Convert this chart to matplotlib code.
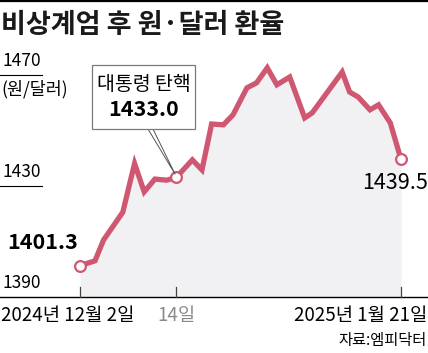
import matplotlib
matplotlib.use('Agg')
import matplotlib.pyplot as plt
from matplotlib.patches import Polygon, Rectangle

plt.rcParams['font.family'] = ['Noto Sans CJK KR', 'DejaVu Sans']

# data: position (trading-day step) and won/dollar rate
pos = [0, 1.4, 2.2, 4.0, 5.1, 6.0, 7.0, 8.1, 9.0, 10.5, 11.4, 12.3, 13.4, 14.3,
       15.6, 16.5, 17.5, 18.4, 19.6, 21.0, 21.7, 24.5, 25.2, 26.0, 27.1, 27.9,
       29.0, 30.0]
rate = [1401.3, 1403.0, 1410.5, 1420.5, 1438.0, 1427.8, 1432.4, 1432.0, 1433.0,
        1439.3, 1435.7, 1452.2, 1451.9, 1455.5, 1465.2, 1467.0, 1472.4, 1466.3,
        1469.1, 1454.4, 1456.2, 1470.9, 1463.7, 1461.9, 1457.3, 1459.1, 1452.6,
        1439.5]
mark_idx = [0, 8, 27]
tick_pos = [0, 9, 30]
tick_labels = ['2024년 12월 2일', '14일', '2025년 1월 21일']
y_ticks = [1470, 1430, 1390]

line_col = '#cf5771'

fig = plt.figure(figsize=(4.28, 3.53), dpi=100)
ax = fig.add_axes([0, 0, 1, 1])
# px mapping: x 0 -> 80px, 30 -> 401px ; y 1390 -> 297px, 1470 -> 74.5px
sx = 321 / 30.0
sy = 222.5 / 80.0
ax.set_xlim(-80 / sx, (428 - 80) / sx)
ax.set_ylim(1390 - 56 / sy, 1390 + 297 / sy)
ax.axis('off')

x0, x1 = ax.get_xlim()
ytop = ax.get_ylim()[1]

# top rule
ax.plot([x0, x1], [ytop - 1.2 / sy] * 2, color='black', lw=1.6, clip_on=False)

# title
fig.text(1 / 428, 1 - 25 / 353, '비상계엄 후 원·달러 환율', fontsize=19.5,
         fontweight='bold', va='center', ha='left', color='#1a1a1a')

# area + line
ax.fill_between(pos, rate, 1390, color='#f1f1f4', lw=0, zorder=1)
ax.plot(pos, rate, color=line_col, lw=3.8, solid_joinstyle='miter', zorder=3)
ax.scatter([pos[i] for i in mark_idx], [rate[i] for i in mark_idx], s=60,
           facecolor='white', edgecolor=line_col, linewidth=1.6, zorder=4)

# y labels with short underline
for v in y_ticks:
    ax.text(x0 + 2 / sx, v + 14 / sy, str(v), fontsize=12.5, va='center', ha='left')
    if v != 1390:
        ax.plot([x0, x0 + 42 / sx], [v, v], color='black', lw=0.8)
ax.text(x0 + 1 / sx, 1470 - 15 / sy, '(원/달러)', fontsize=12.5, va='center', ha='left')

# baseline axis
ax.plot([x0, x1], [1390, 1390], color='black', lw=1.0, zorder=5)
for p in tick_pos:
    ax.plot([p, p], [1390, 1390 + 10 / sy], color='#444444', lw=0.9, zorder=5)
ax.text(x0 + 1 / sx, 1390 - 18 / sy, tick_labels[0], fontsize=13.5, va='center', ha='left')
ax.text(tick_pos[1], 1390 - 18 / sy, tick_labels[1], fontsize=13.5, va='center',
        ha='center', color='#8a8a8a')
ax.text(x1 - 1 / sx, 1390 - 18 / sy, tick_labels[2], fontsize=13.5, va='center', ha='right')
ax.text(x1 - 1 / sx, 1390 - 43 / sy, '자료:엠피닥터', fontsize=11, va='center', ha='right')

# value labels
ax.text(pos[0] - 2 / sx, rate[0] + 23 / sy, '%.1f' % rate[0], fontsize=15.5,
        fontweight='bold', ha='right', va='center')
ax.text(pos[-1] + 27 / sx, rate[-1] - 24 / sy, '%.1f' % rate[-1], fontsize=15.5,
        ha='right', va='center')

# callout box
bx0, bx1 = (92 - 80) / sx, (195 - 80) / sx
by0, by1 = 1390 + (297 - 129) / sy, 1390 + (297 - 65) / sy
ax.add_patch(Rectangle((bx0, by0), bx1 - bx0, by1 - by0, facecolor='white',
                       edgecolor='#7a7a7a', lw=0.9, zorder=6))
px, py = pos[mark_idx[1]], rate[mark_idx[1]]
ax.add_patch(Polygon([((148 - 80) / sx, by0), ((153 - 80) / sx, by0),
                      (px - 0.1, py + 3 / sy)], closed=True, facecolor='white',
                     edgecolor='#555555', lw=0.7, zorder=5))
bxm = (bx0 + bx1) / 2
ax.text(bxm, 1390 + (297 - 85) / sy, '대통령 탄핵', fontsize=14, ha='center',
        va='center', zorder=7)
ax.text(bxm, 1390 + (297 - 109) / sy, '%.1f' % rate[mark_idx[1]], fontsize=15.5,
        fontweight='bold', ha='center', va='center', zorder=7)

fig.savefig('out.png', dpi=100)
